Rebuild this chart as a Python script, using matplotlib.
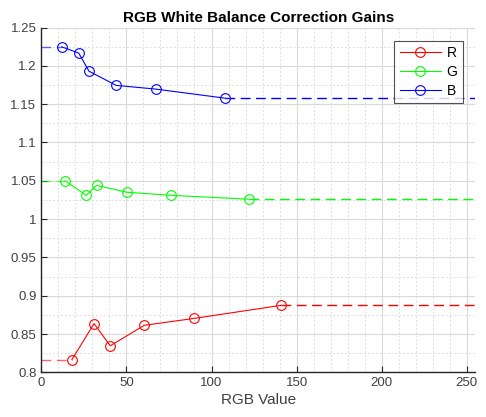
import matplotlib
matplotlib.use("Agg")
import matplotlib.pyplot as plt
import numpy as np
from matplotlib.ticker import MultipleLocator

plt.rcParams['font.family'] = ['Liberation Sans', 'DejaVu Sans']

# measured points per channel (RGB value, gain)
r_x = [18, 31, 40.5, 60.5, 90, 141]
r_y = [0.8167, 0.8637, 0.8347, 0.8614, 0.8705, 0.8875]
g_x = [14, 26.4, 32.5, 50.5, 76.4, 122]
g_y = [1.050, 1.031, 1.044, 1.035, 1.031, 1.026]
b_x = [12, 22, 28, 44, 67.5, 108]
b_y = [1.2248, 1.2166, 1.193, 1.1745, 1.1696, 1.1578]

names = ["R", "G", "B"]
colors = ["#ff0000", "#00ff00", "#0000ff"]
xs = [r_x, g_x, b_x]
ys = [r_y, g_y, b_y]
x_max = 255

fig = plt.figure(figsize=(4.86, 4.17), dpi=100)
ax = fig.add_axes([0.085, 0.107, 0.893, 0.827])

dash = (0, (7, 4))
for name, c, x, y in zip(names, colors, xs, ys):
    ax.plot(x, y, color=c, lw=0.8, marker='o', ms=7, mfc='none',
            mec=c, mew=0.8, label=name, zorder=3)
    # flat extrapolation at both ends
    ax.plot([0, x[0]], [y[0], y[0]], color=c, lw=1.0, ls=dash, alpha=0.6, zorder=2)
    ax.plot([x[-1], x_max], [y[-1], y[-1]], color=c, lw=1.0, ls=dash, zorder=2)

ax.set_xlim(0, x_max)
ax.set_ylim(0.8, 1.25)
ax.xaxis.set_major_locator(MultipleLocator(50))
ax.xaxis.set_minor_locator(MultipleLocator(10))
ax.yaxis.set_minor_locator(MultipleLocator(0.025))
ax.set_yticks(np.arange(0.8, 1.2501, 0.05))
ax.set_yticklabels(["0.8", "0.85", "0.9", "0.95", "1", "1.05", "1.1", "1.15", "1.2", "1.25"])

ax.grid(which='major', color='#d9d9d9', lw=0.8)
ax.grid(which='minor', color='#dedede', lw=0.7, ls=(0, (2, 2)))
ax.set_axisbelow(True)

for s in ['top', 'right']:
    ax.spines[s].set_visible(False)
for s in ['left', 'bottom']:
    ax.spines[s].set_color('#262626')
    ax.spines[s].set_linewidth(1.0)
ax.tick_params(which='major', direction='in', length=4, colors='#262626', labelsize=9.5, width=0.8)
ax.tick_params(which='minor', length=0)
for lab in ax.get_xticklabels() + ax.get_yticklabels():
    lab.set_color('#404040')

ax.set_xlabel("RGB Value", fontsize=11, color='#404040', labelpad=3)
ax.set_title("RGB White Balance Correction Gains", fontsize=11, fontweight='bold', pad=4)

leg = ax.legend(loc='upper right', bbox_to_anchor=(0.972, 0.962), fontsize=10, frameon=True,
                fancybox=False, edgecolor='#262626', handlelength=3.0, borderpad=0.4,
                labelspacing=0.35, handletextpad=0.4, borderaxespad=0)
leg.get_frame().set_linewidth(0.8)

fig.savefig("out.png", dpi=100)
